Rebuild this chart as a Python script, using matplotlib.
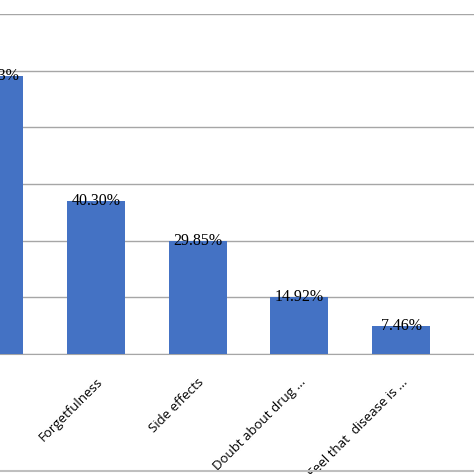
import matplotlib
matplotlib.use("Agg")
import matplotlib.pyplot as plt

categories = ["Lack of knowledge", "Forgetfulness", "Side effects",
              "Doubt about drug ...", "Feel that  disease is ...", "Hope..."]
counts = [49, 27, 20, 10, 5, 3]
labels = ["73.13%", "40.30%", "29.85%", "14.92%", "7.46%", "4.48%"]

fig = plt.figure(figsize=(4.74, 4.74), dpi=100)
ax = fig.add_axes([0, 120 / 474, 1, 340 / 474])
x = list(range(len(categories)))
ax.bar(x, counts, width=0.57, color="#4472C4", zorder=3)
for xi, c, lab in zip(x, counts, labels):
    ax.text(xi, c, lab, ha="center", va="center", fontsize=11.5,
            family="Liberation Serif", zorder=4)

ax.set_xticks(x)
ax.set_xticklabels(categories, rotation=45, ha="right", rotation_mode="anchor",
                   fontsize=9.5, family="Open Sans")
ax.set_yticks(range(0, 61, 10))
ax.set_xlim(0.056, 4.717)
ax.set_ylim(0, 60)
ax.yaxis.grid(True, color="#A6A6A6", linewidth=1, zorder=0)
ax.tick_params(left=False, labelleft=False, bottom=False)
ax.tick_params(axis="x", pad=12)
for s in ["top", "right", "left"]:
    ax.spines[s].set_visible(False)
ax.spines["bottom"].set_color("#A6A6A6")

fig.add_artist(plt.Line2D([0, 1], [3 / 474, 3 / 474], color="#BFBFBF", linewidth=1.5))
fig.savefig("out.png", dpi=100)
